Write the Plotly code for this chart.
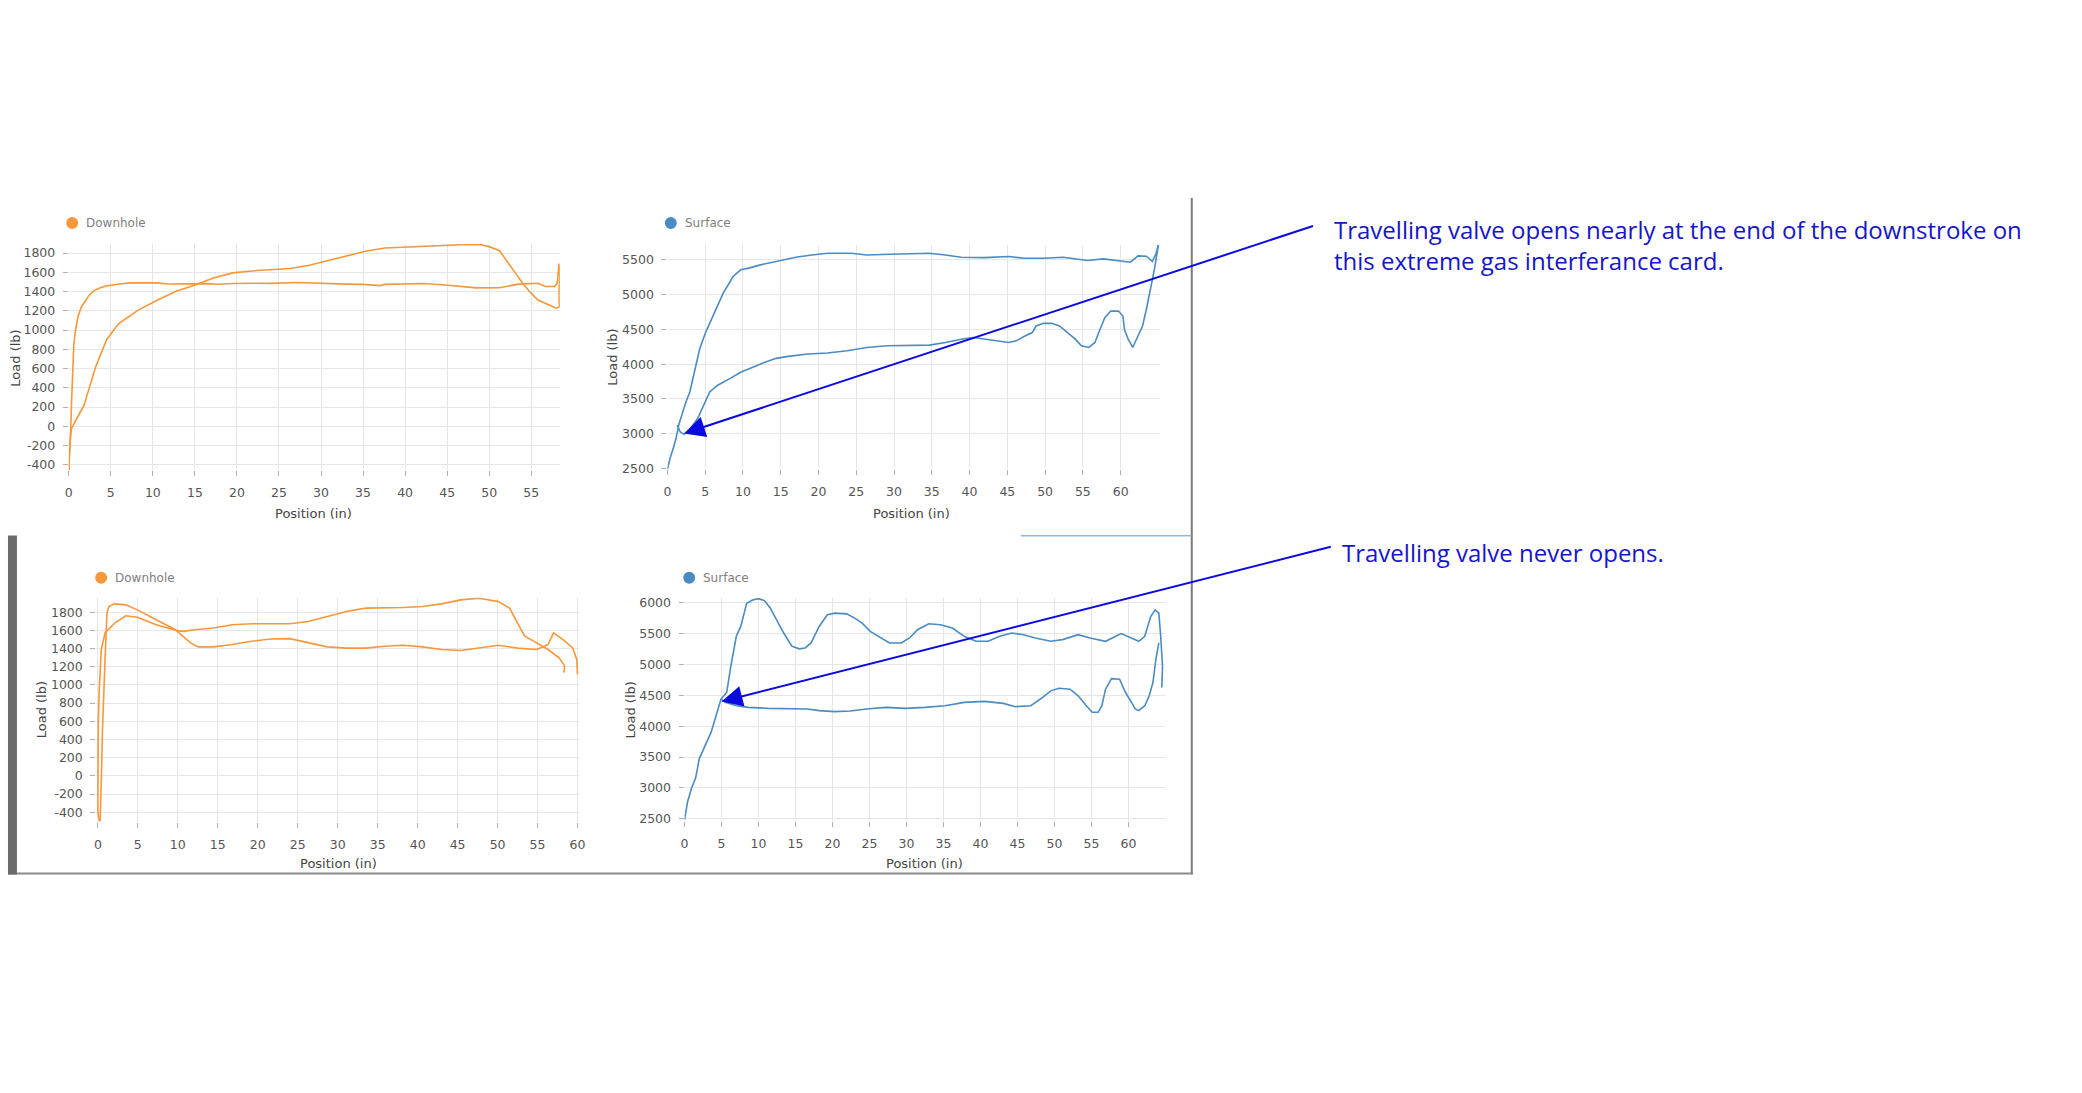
import plotly.graph_objects as go

W, H = 2082, 1093

# ---------------- data ----------------
# Top-left: downhole card (extreme gas interference)
dh1_up_x = [0.0, 0.1, 0.2, 0.35, 0.45, 0.6, 0.8, 1.1, 1.5, 1.9, 2.4, 3.0, 3.6, 4.3, 5.0, 6.0, 7.3, 8.5, 10.4, 11.8,
            13.5, 15.0, 16.5, 17.7, 19.5, 22.0, 24.0, 27.2, 29.5, 31.5, 33.0, 35.0, 37.0, 37.6, 40.0, 42.2, 44.4,
            46.5, 48.5, 51.2, 53.5, 55.8, 56.7, 57.8, 58.1, 58.3, 58.4, 58.3, 58.35, 58.0]
dh1_up_y = [-455, -300, -100, 300, 620, 850, 1000, 1140, 1240, 1300, 1360, 1410, 1435, 1455, 1467, 1478, 1490, 1492,
            1490, 1478, 1480, 1484, 1482, 1476, 1484, 1486, 1485, 1494, 1485, 1482, 1477, 1474, 1462, 1474, 1478,
            1484, 1470, 1455, 1438, 1440, 1477, 1486, 1452, 1452, 1490, 1690, 1560, 1380, 1240, 1226]
dh1_dn_x = [58.0, 56.8, 55.8, 54.8, 54.0, 52.6, 51.2, 49.9, 49.0, 46.7, 44.4, 42.2, 39.9, 37.6, 35.4, 33.1, 30.8,
            28.6, 26.3, 24.0, 21.8, 19.5, 17.2, 15.0, 12.7, 10.4, 8.2, 5.9, 4.5, 3.2, 2.5, 1.8, 0.9, 0.3, 0.1, 0.0]
dh1_dn_y = [1226, 1270, 1312, 1400, 1484, 1656, 1827, 1869, 1886, 1886, 1879, 1866, 1862, 1852, 1821, 1769, 1724,
            1673, 1640, 1628, 1614, 1594, 1540, 1467, 1400, 1305, 1205, 1065, 900, 620, 420, 215, 74, -30, -200, -455]

# Top-right: surface card
sf1_up_x = [0.0, 0.36, 0.8, 1.15, 1.5, 1.9, 2.45, 2.97, 3.3, 3.6, 4.27, 5.05, 5.8, 6.6, 7.4, 8.2, 8.7, 9.7, 10.8,
            12.3, 14.4, 17.0, 19.1, 21.2, 24.3, 26.4, 29.5, 31.6, 34.7, 36.8, 38.9, 42.0, 45.2, 47.2, 49.8, 52.4,
            55.6, 57.7, 59.7, 61.3, 62.3, 63.4, 64.2, 64.7, 65.0]
sf1_up_y = [2490, 2652, 2800, 2936, 3126, 3268, 3457, 3600, 3750, 3931, 4216, 4453, 4642, 4832, 5021, 5164, 5258,
            5353, 5377, 5424, 5472, 5533, 5566, 5590, 5590, 5566, 5576, 5580, 5590, 5566, 5533, 5528, 5543, 5519,
            5519, 5533, 5486, 5509, 5486, 5462, 5552, 5548, 5472, 5590, 5710]
sf1_dn_x = [65.0, 64.8, 64.5, 64.2, 63.8, 63.4, 62.9, 62.3, 61.8, 61.6, 61.0, 60.5, 60.3, 59.7, 58.7, 57.9, 57.1,
            56.6, 55.8, 54.8, 54.0, 53.0, 51.9, 50.9, 49.8, 48.8, 48.3, 47.2, 46.2, 45.2, 43.6, 42.0, 40.5, 38.9,
            36.8, 34.7, 31.6, 29.0, 26.4, 23.8, 21.2, 18.6, 16.0, 14.4, 12.9, 11.3, 9.7, 8.2, 6.6, 5.6, 4.8, 4.0,
            3.4, 2.7, 2.2, 1.67, 1.3]
sf1_dn_y = [5710, 5560, 5380, 5211, 4974, 4784, 4547, 4405, 4263, 4239, 4358, 4500, 4690, 4761, 4761, 4666, 4453,
            4311, 4239, 4263, 4358, 4453, 4547, 4585, 4585, 4547, 4453, 4396, 4334, 4310, 4334, 4358, 4382, 4358,
            4310, 4273, 4263, 4263, 4239, 4192, 4159, 4145, 4111, 4083, 4026, 3955, 3884, 3789, 3694, 3600, 3410,
            3220, 3126, 3031, 2993, 3031, 3126]

# Bottom-left: downhole card (travelling valve never opens)
dh2_a_x = [58.3, 58.4, 57.7, 56.3, 54.9, 53.4, 52.5, 51.5, 50.1, 47.7, 45.4, 43.0, 40.6, 38.2, 33.5, 31.1, 28.7,
           26.3, 24.0, 19.2, 16.8, 14.5, 12.1, 10.65, 9.7, 7.3, 4.95, 3.5, 2.1, 0.9, 0.43, 0.15, 0.05, 0.0, 0.0,
           0.2]
dh2_a_y = [1135, 1207, 1298, 1389, 1462, 1535, 1680, 1844, 1916, 1953, 1935, 1891, 1862, 1851, 1844, 1807, 1753,
           1698, 1673, 1673, 1662, 1625, 1607, 1589, 1600, 1662, 1745, 1760, 1680, 1571, 1389, 900, 553, -100,
           -393, -500]
dh2_b_x = [0.2, 0.29, 0.45, 0.57, 0.9, 1.14, 1.38, 2.1, 3.5, 4.95, 7.3, 9.7, 11.6, 12.55, 14.5, 16.8, 19.2, 21.6,
           24.0, 26.3, 28.7, 31.1, 33.5, 35.9, 38.2, 40.6, 43.0, 45.4, 47.7, 50.1, 52.5, 54.9, 56.3, 57.0, 57.3,
           58.2, 59.4, 59.9, 60.0]
dh2_b_y = [-500, -484, 0, 480, 1280, 1789, 1862, 1891, 1880, 1825, 1716, 1607, 1462, 1418, 1418, 1444, 1480, 1505,
           1509, 1462, 1418, 1404, 1404, 1425, 1436, 1418, 1389, 1378, 1404, 1436, 1404, 1389, 1444, 1571, 1553,
           1498, 1407, 1280, 1116]

# Bottom-right: surface card
sf2_up_x = [0.0, 0.42, 0.95, 1.49, 2.0, 2.8, 3.6, 4.4, 4.93, 5.7, 6.26, 7.0, 7.6, 8.4, 9.2, 10.0, 10.8, 11.6, 12.4,
            13.4, 14.5, 15.5, 16.3, 17.1, 18.2, 19.3, 20.3, 21.9, 23.0, 24.0, 25.1, 26.2, 27.7, 29.3, 30.4, 31.5,
            33.0, 34.6, 36.2, 37.8, 39.4, 41.0, 42.6, 44.2, 45.8, 47.4, 49.5, 51.1, 53.2, 54.8, 56.9, 59.0, 60.4,
            61.4, 62.2, 63.0, 63.6, 64.1, 64.35, 64.6, 64.5]
sf2_up_y = [2480, 2779, 2993, 3154, 3475, 3690, 3904, 4226, 4440, 4547, 4976, 5459, 5619, 5995, 6048, 6070, 6038,
            5914, 5727, 5512, 5298, 5255, 5270, 5351, 5619, 5807, 5834, 5823, 5753, 5673, 5539, 5459, 5351, 5351,
            5432, 5566, 5662, 5646, 5593, 5459, 5378, 5378, 5459, 5512, 5485, 5432, 5378, 5405, 5485, 5432, 5378,
            5502, 5432, 5378, 5459, 5780, 5887, 5834, 5459, 4976, 4628]
sf2_dn_x = [4.93, 5.5, 7.0, 8.6, 11.3, 14.0, 16.6, 18.2, 20.3, 22.4, 24.6, 27.2, 29.9, 32.5, 35.2, 37.8, 40.5, 43.1,
            44.7, 46.8, 48.4, 49.5, 50.6, 52.1, 53.2, 54.3, 55.1, 55.9, 56.4, 56.9, 57.7, 58.8, 59.6, 60.4, 60.9,
            61.4, 62.2, 62.8, 63.3, 63.7, 64.1]
sf2_dn_y = [4440, 4387, 4333, 4306, 4290, 4290, 4280, 4253, 4237, 4247, 4280, 4306, 4290, 4306, 4333, 4387, 4403,
            4371, 4317, 4333, 4467, 4574, 4617, 4601, 4494, 4333, 4226, 4226, 4333, 4601, 4772, 4762, 4547, 4387,
            4280, 4253, 4333, 4494, 4708, 5083, 5351]

# tick values / labels
dh_ticks = [-400, -200, 0, 200, 400, 600, 800, 1000, 1200, 1400, 1600, 1800]
sf1_ticks = [2500, 3000, 3500, 4000, 4500, 5000, 5500]
sf2_ticks = [2500, 3000, 3500, 4000, 4500, 5000, 5500, 6000]
pos_ticks_55 = [0, 5, 10, 15, 20, 25, 30, 35, 40, 45, 50, 55]
pos_ticks_60 = [0, 5, 10, 15, 20, 25, 30, 35, 40, 45, 50, 55, 60]

legend_names = ["Downhole", "Surface", "Downhole", "Surface"]
note_1 = "Travelling valve opens nearly at the end of the downstroke on<br>this extreme gas interferance card."
note_2 = "Travelling valve never opens."

# ---------------- styling ----------------
ORANGE = "#f7973a"
BLUE = "#4a8bc3"
NOTE = "#1515cc"
ARROW = "#0a0ae0"
GRID = "#e6e6e6"
TICKC = "#555555"
FONT = "DejaVu Sans"


def px(x):
    return x / W


def py(y):
    return 1 - y / H


# pixel boxes of each plot area: (left, top, right, bottom)
boxes = [
    (65.1, 243.1, 558.5, 471.5),
    (666.6, 243.8, 1161.5, 470.7),
    (92.7, 600.1, 577.9, 826.3),
    (683.8, 600.5, 1167.1, 825.1),
]
xranges = [[0, 58.4], [0, 65.2], [-0.2, 60.2], [0, 65.0]]
yranges = [[-455, 1895], [2490, 5715], [-505, 1960], [2470, 6080]]
yticks = [dh_ticks, sf1_ticks, dh_ticks, sf2_ticks]
xticks = [pos_ticks_55, pos_ticks_60, pos_ticks_60, pos_ticks_60]

fig = go.Figure()

series = [
    (dh1_up_x, dh1_up_y, ORANGE, 1), (dh1_dn_x, dh1_dn_y, ORANGE, 1),
    (sf1_up_x, sf1_up_y, BLUE, 2), (sf1_dn_x, sf1_dn_y, BLUE, 2),
    (dh2_a_x, dh2_a_y, ORANGE, 3), (dh2_b_x, dh2_b_y, ORANGE, 3),
    (sf2_up_x, sf2_up_y, BLUE, 4), (sf2_dn_x, sf2_dn_y, BLUE, 4),
]
for xs, ys, col, k in series:
    sfx = "" if k == 1 else str(k)
    fig.add_trace(go.Scatter(x=xs, y=ys, mode="lines", line=dict(color=col, width=1.6),
                             xaxis="x" + sfx, yaxis="y" + sfx, showlegend=False, hoverinfo="skip"))

layout = dict(
    width=W, height=H,
    margin=dict(l=0, r=0, t=0, b=0),
    paper_bgcolor="white", plot_bgcolor="white",
    showlegend=False,
    font=dict(family=FONT, size=12, color=TICKC),
)

annotations = []
shapes = []
for i in range(4):
    l, t, r, b = boxes[i]
    sfx = "" if i == 0 else str(i + 1)
    layout["xaxis" + sfx] = dict(
        domain=[px(l), px(r)], range=xranges[i], anchor="y" + sfx,
        tickvals=xticks[i], ticktext=[str(v) for v in xticks[i]],
        showgrid=True, gridcolor=GRID, gridwidth=1, zeroline=False, showline=False,
        ticks="outside", ticklen=5, tickcolor="#b0b0b0", tickwidth=1,
        tickfont=dict(family=FONT, size=12.5, color=TICKC), ticklabelstandoff=6,
    )
    layout["yaxis" + sfx] = dict(
        domain=[py(b), py(t)], range=yranges[i], anchor="x" + sfx,
        tickvals=yticks[i], ticktext=[str(v) for v in yticks[i]],
        showgrid=True, gridcolor=GRID, gridwidth=1, zeroline=False, showline=False,
        ticks="outside", ticklen=5, tickcolor="#b0b0b0", tickwidth=1,
        tickfont=dict(family=FONT, size=12.5, color=TICKC), ticklabelstandoff=5,
    )

# axis titles
xtitle_pos = [(311, 515), (912, 515), (336, 868), (925, 868)]
ytitle_pos = [(12, 358), (612, 358), (38, 713), (630, 713)]
for (x, y) in xtitle_pos:
    annotations.append(dict(x=px(x), y=py(y), xref="paper", yref="paper", text="Position (in)",
                            showarrow=False, xanchor="center", yanchor="middle",
                            font=dict(family=FONT, size=13, color="#444444")))
for (x, y) in ytitle_pos:
    annotations.append(dict(x=px(x), y=py(y), xref="paper", yref="paper", text="Load (lb)", textangle=-90,
                            showarrow=False, xanchor="center", yanchor="middle",
                            font=dict(family=FONT, size=13, color="#444444")))

# legends (dot + label)
legend_pos = [(68.5, 222), (670, 222), (97.6, 580), (688.5, 580)]
legend_cols = [ORANGE, BLUE, ORANGE, BLUE]
for (x, y), name, col in zip(legend_pos, legend_names, legend_cols):
    shapes.append(dict(type="circle", xref="paper", yref="paper",
                       x0=px(x - 6), x1=px(x + 6), y0=py(y + 6), y1=py(y - 6),
                       fillcolor=col, line=dict(width=0)))
    annotations.append(dict(x=px(x + 12), y=py(y), xref="paper", yref="paper", text=name, showarrow=False,
                            xanchor="left", yanchor="middle", font=dict(family=FONT, size=12, color="#808080")))

# frame decorations
shapes.append(dict(type="line", xref="paper", yref="paper", x0=px(1193.5), x1=px(1193.5), y0=py(196.7),
                   y1=py(879.5), line=dict(color="#7a7a7a", width=2)))
shapes.append(dict(type="line", xref="paper", yref="paper", x0=px(4), x1=px(1194.5), y0=py(878.5),
                   y1=py(878.5), line=dict(color="#8a8a8a", width=2)))
shapes.append(dict(type="rect", xref="paper", yref="paper", x0=px(4), x1=px(13), y0=py(879.5), y1=py(537.3),
                   fillcolor="#6b6b6b", line=dict(width=0)))
shapes.append(dict(type="line", xref="paper", yref="paper", x0=px(1021.7), x1=px(1193), y0=py(537.7),
                   y1=py(537.7), line=dict(color="#8cb9e6", width=1.5)))

# arrows (tip on the data, tail in pixel offsets)
annotations.append(dict(x=2.2, y=3005, xref="x2", yref="y2", text="", showarrow=True,
                        ax=1313.5 - 683.0, ay=226.5 - 434.5, axref="pixel", ayref="pixel",
                        arrowhead=2, arrowsize=2.1, arrowwidth=2, arrowcolor=ARROW, standoff=0))
annotations.append(dict(x=5.0, y=4400, xref="x4", yref="y4", text="", showarrow=True,
                        ax=1331.5 - 720.7, ay=549.8 - 705.0, axref="pixel", ayref="pixel",
                        arrowhead=2, arrowsize=2.1, arrowwidth=2, arrowcolor=ARROW, standoff=0))

# notes
annotations.append(dict(x=px(1334), y=py(244), xref="paper", yref="paper", text=note_1, showarrow=False,
                        xanchor="left", yanchor="middle", align="left",
                        font=dict(family="Open Sans", size=24, color=NOTE)))
annotations.append(dict(x=px(1342), y=py(555), xref="paper", yref="paper", text=note_2, showarrow=False,
                        xanchor="left", yanchor="middle", align="left",
                        font=dict(family="Open Sans", size=24, color=NOTE)))

layout["annotations"] = annotations
layout["shapes"] = shapes
fig.update_layout(**layout)

fig.write_html("out.html")
